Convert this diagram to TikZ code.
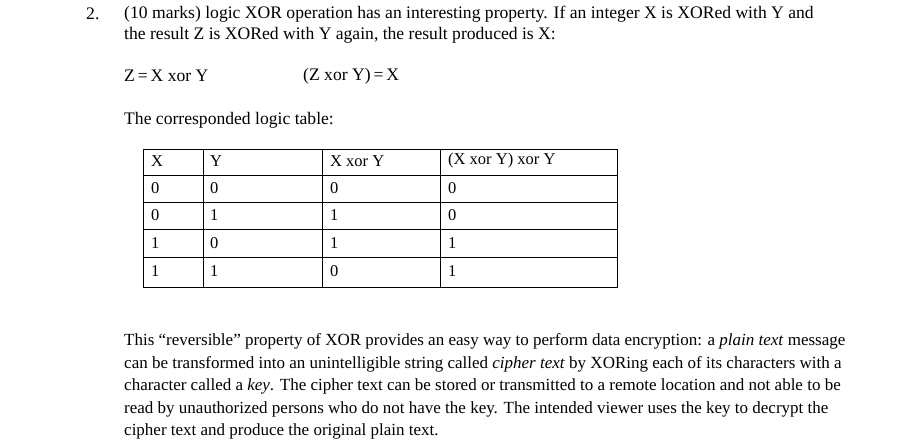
\documentclass[tikz,border=0pt]{standalone}
\usepackage{fontspec}
\setmainfont{Liberation Serif}
\begin{document}
\begin{tikzpicture}[x=1pt,y=-1pt,
  txt/.style={anchor=west,inner sep=0pt,font=\fontsize{17}{20}\selectfont},
  top/.style={anchor=west,inner sep=0pt,font=\fontsize{17.6}{20}\selectfont},
  cell/.style={anchor=west,inner sep=0pt,font=\fontsize{16.5}{20}\selectfont}]
\useasboundingbox (0,0) rectangle (904,442);
\node[top] (n2) at (86,14) {2.};
\node[top] (l1) at (124,14) {(10 marks) logic XOR operation has an interesting property. If an integer X is XORed with Y and};
\node[top] (l2) at (124,35) {the result Z is XORed with Y again, the result produced is X:};
\node[top] (e1) at (124,76) {Z\,=\,X xor Y};
\node[top] (e2) at (303,76) {(Z xor Y)\,=\,X};
\node[top] (l3) at (124,120) {The corresponded logic table:};
% table
\draw[line width=0.9pt] (143,149) rectangle (617,287);
\foreach \yy in {175,202,229,257} \draw[line width=0.9pt] (143,\yy) -- (617,\yy);
\foreach \xx in {203,322,440} {\draw[line width=0.9pt] (\xx,149) -- (\xx,287);}
\foreach \r/\a/\b/\c/\d [count=\i] in {161/X/Y/X xor Y/(X xor Y) xor Y,188/0/0/0/0,215/0/1/1/0,243/1/0/1/1,271/1/1/0/1} {
  \node[cell] (a\i) at (151,\r) {\a};
  \node[cell] (b\i) at (210,\r) {\b};
  \node[cell] (c\i) at (330,\r) {\c};
  \node[cell] (d\i) at (448,\r) {\d};
}
\node[txt] (p1) at (124,341) {This “reversible” property of XOR provides an easy way to perform data encryption: a \textit{plain text} message};
\node[txt] (p2) at (124,364) {can be transformed into an unintelligible string called \textit{cipher text} by XORing each of its characters with a};
\node[txt] (p3) at (124,386) {character called a \textit{key}. The cipher text can be stored or transmitted to a remote location and not able to be};
\node[txt] (p4) at (124,409) {read by unauthorized persons who do not have the key. The intended viewer uses the key to decrypt the};
\node[txt] (p5) at (124,431) {cipher text and produce the original plain text.};
\end{tikzpicture}
\end{document}
